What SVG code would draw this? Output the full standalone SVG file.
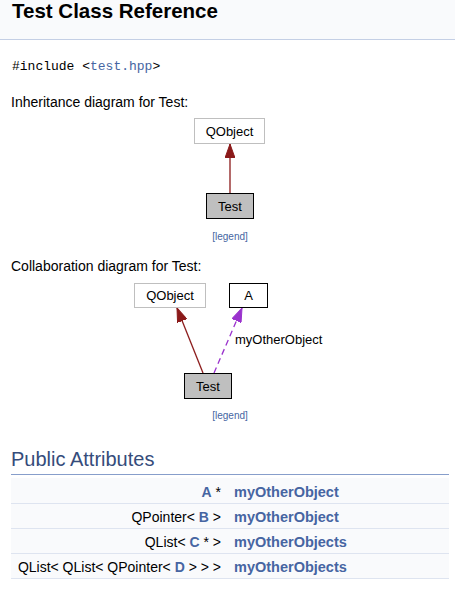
<svg xmlns="http://www.w3.org/2000/svg" width="455" height="598" viewBox="0 0 455 598">
<style>
  text { font-family: "Liberation Sans", Arial, sans-serif; }
  .title { font-size: 20.5px; font-weight: bold; fill: #000; }
  .mono { font-family: "Liberation Mono", "Courier New", monospace; font-size: 13px; fill: #000; }
  .link { fill: #4665A2; }
  .body { font-size: 14px; fill: #000; }
  .node text { font-size: 13px; text-anchor: middle; fill: #000; }
  .legend { font-size: 10px; fill: #4665A2; text-anchor: middle; }
  .gh { font-size: 20px; fill: #354C7B; }
  .left { font-size: 14px; text-anchor: end; fill: #000; }
  .name { font-size: 14.5px; font-weight: bold; fill: #4665A2; }
  .b { font-weight: bold; fill: #4665A2; }
  .row { fill: #F9FAFC; }
  .sep { stroke: #DEE4F0; stroke-width: 1; }
</style>
<defs>
  <marker id="arRed" viewBox="0 0 14 10" refX="14" refY="5" markerWidth="14" markerHeight="10" markerUnits="userSpaceOnUse" orient="auto">
    <path d="M0,0 L14,5 L0,10 z" fill="#8B1A1A" stroke="#8B1A1A"/>
  </marker>
  <marker id="arPurple" viewBox="0 0 14 10" refX="14" refY="5" markerWidth="14" markerHeight="10" markerUnits="userSpaceOnUse" orient="auto">
    <path d="M0,0 L14,5 L0,10 z" fill="#9A32CD" stroke="#9A32CD"/>
  </marker>
</defs>
<rect x="0" y="0" width="455" height="598" fill="#ffffff"/>
<!-- header -->
<rect x="0" y="0" width="455" height="39" fill="#F9FAFC"/>
<line x1="0" y1="39.5" x2="455" y2="39.5" stroke="#C4CFE5" stroke-width="1"/>
<text class="title" x="12" y="18">Test Class Reference</text>
<text class="mono" x="12" y="70">#include &lt;<tspan class="link">test.hpp</tspan>&gt;</text>
<text class="body" x="11" y="107">Inheritance diagram for Test:</text>

<!-- inheritance diagram -->
<g id="connectors-inh">
  <line x1="230" y1="194" x2="230" y2="144" stroke="#8B1A1A" stroke-width="1.3" marker-end="url(#arRed)"/>
</g>
<g id="inh-QObject" class="node">
  <rect x="194.5" y="118.5" width="70" height="25" fill="#fff" stroke="#BFBFBF"/>
  <text x="229.5" y="135.5">QObject</text>
</g>
<g id="inh-Test" class="node">
  <rect x="206.5" y="193.5" width="47" height="25" fill="#BFBFBF" stroke="#000"/>
  <text x="230" y="210.5">Test</text>
</g>
<text class="legend" x="230" y="239.5">[legend]</text>

<text class="body" x="11" y="271">Collaboration diagram for Test:</text>

<!-- collaboration diagram -->
<g id="connectors-collab">
  <line x1="203" y1="373" x2="177" y2="308" stroke="#8B1A1A" stroke-width="1.3" marker-end="url(#arRed)"/>
  <line x1="214" y1="373" x2="242" y2="308" stroke="#9A32CD" stroke-width="1.3" stroke-dasharray="6,4" marker-end="url(#arPurple)"/>
  <text x="235" y="344" font-size="13" fill="#000">myOtherObject</text>
</g>
<g id="col-QObject" class="node">
  <rect x="134.5" y="283.5" width="71" height="24" fill="#fff" stroke="#BFBFBF"/>
  <text x="170" y="300">QObject</text>
</g>
<g id="col-A" class="node">
  <rect x="229.5" y="283.5" width="38" height="24" fill="#fff" stroke="#000"/>
  <text x="248.5" y="300">A</text>
</g>
<g id="col-Test" class="node">
  <rect x="184.5" y="373.5" width="47" height="25" fill="#BFBFBF" stroke="#000"/>
  <text x="208" y="390.5">Test</text>
</g>
<text class="legend" x="230" y="419">[legend]</text>

<!-- public attributes -->
<text class="gh" x="11" y="466">Public Attributes</text>
<line x1="11" y1="474.5" x2="449" y2="474.5" stroke="#879ECB" stroke-width="1"/>
<rect class="row" x="11" y="478" width="438" height="25"/>
<rect class="row" x="11" y="504" width="438" height="24"/>
<rect class="row" x="11" y="529" width="438" height="24"/>
<rect class="row" x="11" y="554" width="438" height="24"/>
<line class="sep" x1="11" y1="503.5" x2="449" y2="503.5"/>
<line class="sep" x1="11" y1="528.5" x2="449" y2="528.5"/>
<line class="sep" x1="11" y1="553.5" x2="449" y2="553.5"/>
<line class="sep" x1="11" y1="578.5" x2="449" y2="578.5"/>

<text class="left" x="221" y="497"><tspan class="b">A</tspan> *</text>
<text class="name" x="234" y="497">myOtherObject</text>
<text class="left" x="221" y="522">QPointer&lt; <tspan class="b">B</tspan> &gt;</text>
<text class="name" x="234" y="522">myOtherObject</text>
<text class="left" x="221" y="547">QList&lt; <tspan class="b">C</tspan> * &gt;</text>
<text class="name" x="234" y="547">myOtherObjects</text>
<text class="left" x="221" y="572">QList&lt; QList&lt; QPointer&lt; <tspan class="b">D</tspan> &gt; &gt; &gt;</text>
<text class="name" x="234" y="572">myOtherObjects</text>
</svg>
